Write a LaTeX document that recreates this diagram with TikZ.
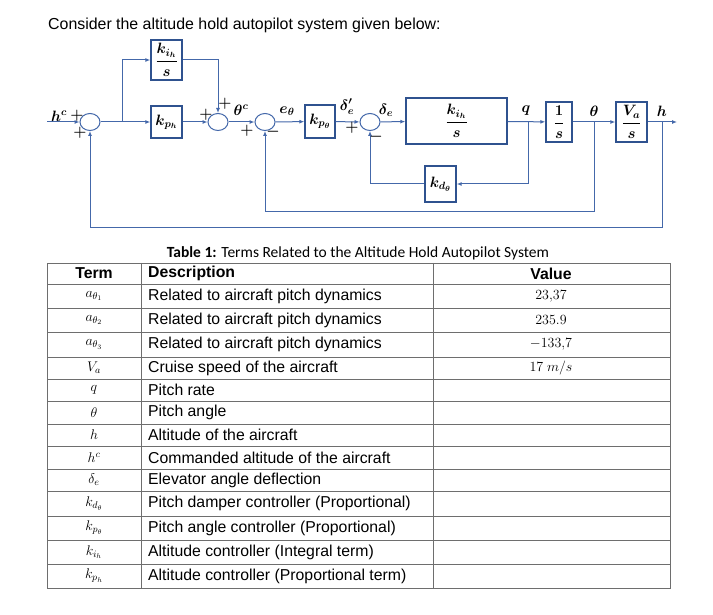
\RequirePackage{fix-cm}
\documentclass[tikz,border=0pt]{standalone}
\usepackage{amsmath}
\usepackage{fontspec}
\setmainfont{Liberation Sans}
\newfontfamily\calib{Carlito}
\usetikzlibrary{shapes.geometric,arrows.meta}
\definecolor{ln}{RGB}{68,104,170}
\definecolor{bx}{RGB}{47,82,143}
\definecolor{tl}{RGB}{110,110,110}
\begin{document}
\begin{tikzpicture}[x=1pt,y=-1pt,
  sum/.style={draw=ln,ellipse,minimum width=20pt,minimum height=17pt,inner sep=0pt,line width=1pt},
  blk/.style={draw=bx,line width=1.4pt,rectangle,inner sep=0pt,font=\fontsize{15}{16}\selectfont\boldmath},
  con/.style={draw=ln,line width=1pt},
  arr/.style={con,-{Latex[length=5pt,width=4pt]}},
  lab/.style={font=\fontsize{15}{16}\selectfont\boldmath,inner sep=0pt},
  tx/.style={font=\fontsize{15.8}{17}\selectfont,inner sep=0pt},
  tm/.style={font=\fontsize{14}{15}\selectfont,inner sep=0pt},
  tab/.style={draw=tl,line width=0.9pt}]
\useasboundingbox[fill=white] (0,0) rectangle (713,615);
\node[anchor=west,inner sep=0pt,font=\fontsize{15.9}{17}\selectfont] (title) at (48,25) {Consider the altitude hold autopilot system given below:};
% blocks
\node[sum] (s1) at (90,122) {};
\node[blk,minimum width=31pt,minimum height=40pt] (bki) at (166.5,60) {$\dfrac{k_{i_h}}{s}$};
\node[blk,minimum width=31pt,minimum height=32pt] (kph) at (166.5,122) {$k_{p_h}$};
\node[sum] (s2) at (218,122) {};
\node[sum] (s3) at (265,122) {};
\node[blk,minimum width=30pt,minimum height=33pt] (kpt) at (320,121.5) {$k_{p_\theta}$};
\node[sum] (s4) at (370,122) {};
\node[blk,minimum width=101pt,minimum height=46pt] (kth) at (456.5,121) {$\dfrac{k_{i_h}}{s}$};
\node[blk,minimum width=26pt,minimum height=40pt] (one) at (559,122) {$\dfrac{1}{s}$};
\node[blk,minimum width=31pt,minimum height=40pt] (va) at (631.5,122) {$\dfrac{V_a}{s}$};
\node[blk,minimum width=31pt,minimum height=36pt] (kd) at (440.5,184) {$k_{d_\theta}$};
\coordinate (in) at (47,122);
\coordinate (out) at (677,122);
\coordinate (br1) at (122,122);
\coordinate (bq) at (528,122);
\coordinate (bt) at (594,122);
\coordinate (bh) at (662,122);
% connectors
\draw[arr] (in) -- (s1);
\draw[arr] (s1) -- (kph);
\draw[arr] (br1) |- (bki.west);
\draw[arr] (bki.east) -| (s2.north);
\draw[arr] (kph) -- (s2);
\draw[arr] (s2) -- (s3);
\draw[arr] (s3) -- (kpt);
\draw[arr] (kpt) -- (s4);
\draw[arr] (s4) -- (kth);
\draw[arr] (kth) -- (one);
\draw[arr] (one) -- (va);
\draw[arr] (va) -- (out);
\draw[arr] (bq) |- (kd.east);
\draw[arr] (kd.west) -| (s4.south);
\draw[arr] (bt) -- ++(0,90) -| (s3.south);
\draw[arr] (bh) -- ++(0,106) -| (s1.south);
% labels
\node[lab] (lhc) at (59,116) {$h^c$};
\node[lab] (p1a) at (77,116) {$+$};
\node[lab] (p1b) at (80,133) {$+$};
\node[lab] (p2a) at (206,115) {$+$};
\node[lab] (p2b) at (225,104) {$+$};
\node[lab] (ltc) at (241,110) {$\theta^c$};
\node[lab] (p3a) at (247,131) {$+$};
\node[lab] (m3) at (273,132) {$-$};
\node[lab] (leth) at (287,111) {$e_\theta$};
\node[lab] (lde1) at (347,107) {$\delta_e'$};
\node[lab] (p4a) at (352,128) {$+$};
\node[lab] (m4) at (376,137) {$-$};
\node[lab] (lde) at (386,110) {$\delta_e$};
\node[lab] (lq) at (526,111) {$q$};
\node[lab] (lth) at (594,111) {$\theta$};
\node[lab] (lh) at (662,111) {$h$};
% table
\node[inner sep=0pt,font=\calib\fontsize{15.5}{17}\selectfont] (cap) at (358,253) {\textbf{Table 1:} Terms Related to the Altitude Hold Autopilot System};
\draw[tab] (47,263) rectangle (670,588);
\draw[tab] (141,263) -- (141,588);
\draw[tab] (433,263) -- (433,588);
\foreach \yy in {284,308,332,357,379,401,424,446,469,491,516,540,564}
  \draw[tab] (47,\yy) -- (670,\yy);
\node[tx,font=\bfseries\fontsize{15.8}{17}\selectfont] (h1) at (94,273.5) {Term};
\node[tx,anchor=west,font=\bfseries\fontsize{15.8}{17}\selectfont] (h2) at (148,273.5) {Description};
\node[tx,font=\bfseries\fontsize{15.8}{17}\selectfont] (h3) at (551,273.5) {Value};
\foreach \yc/\term/\desc [count=\i] in {
  296/{a_{\theta_1}}/{Related to aircraft pitch dynamics},
  320/{a_{\theta_2}}/{Related to aircraft pitch dynamics},
  344.5/{a_{\theta_3}}/{Related to aircraft pitch dynamics},
  368/{V_a}/{Cruise speed of the aircraft},
  390/{q}/{Pitch rate},
  412.5/{\theta}/{Pitch angle},
  435/{h}/{Altitude of the aircraft},
  457.5/{h^c}/{Commanded altitude of the aircraft},
  480/{\delta_e}/{Elevator angle deflection},
  503.5/{k_{d_\theta}}/{Pitch damper controller (Proportional)},
  528/{k_{p_\theta}}/{Pitch angle controller (Proportional)},
  552/{k_{i_h}}/{Altitude controller (Integral term)},
  576/{k_{p_h}}/{Altitude controller (Proportional term)}}
{
  \node[tm] (t\i) at (94,\yc) {$\term$};
  \node[tx,anchor=west] (d\i) at (148,\yc) {\desc};
}
\node[tm] (v1) at (551,296) {$23{,}37$};
\node[tm] (v2) at (551,320) {$235.9$};
\node[tm] (v3) at (551,344.5) {$-133{,}7$};
\node[tm] (v4) at (551,368) {$17\ m/s$};
\end{tikzpicture}
\end{document}
